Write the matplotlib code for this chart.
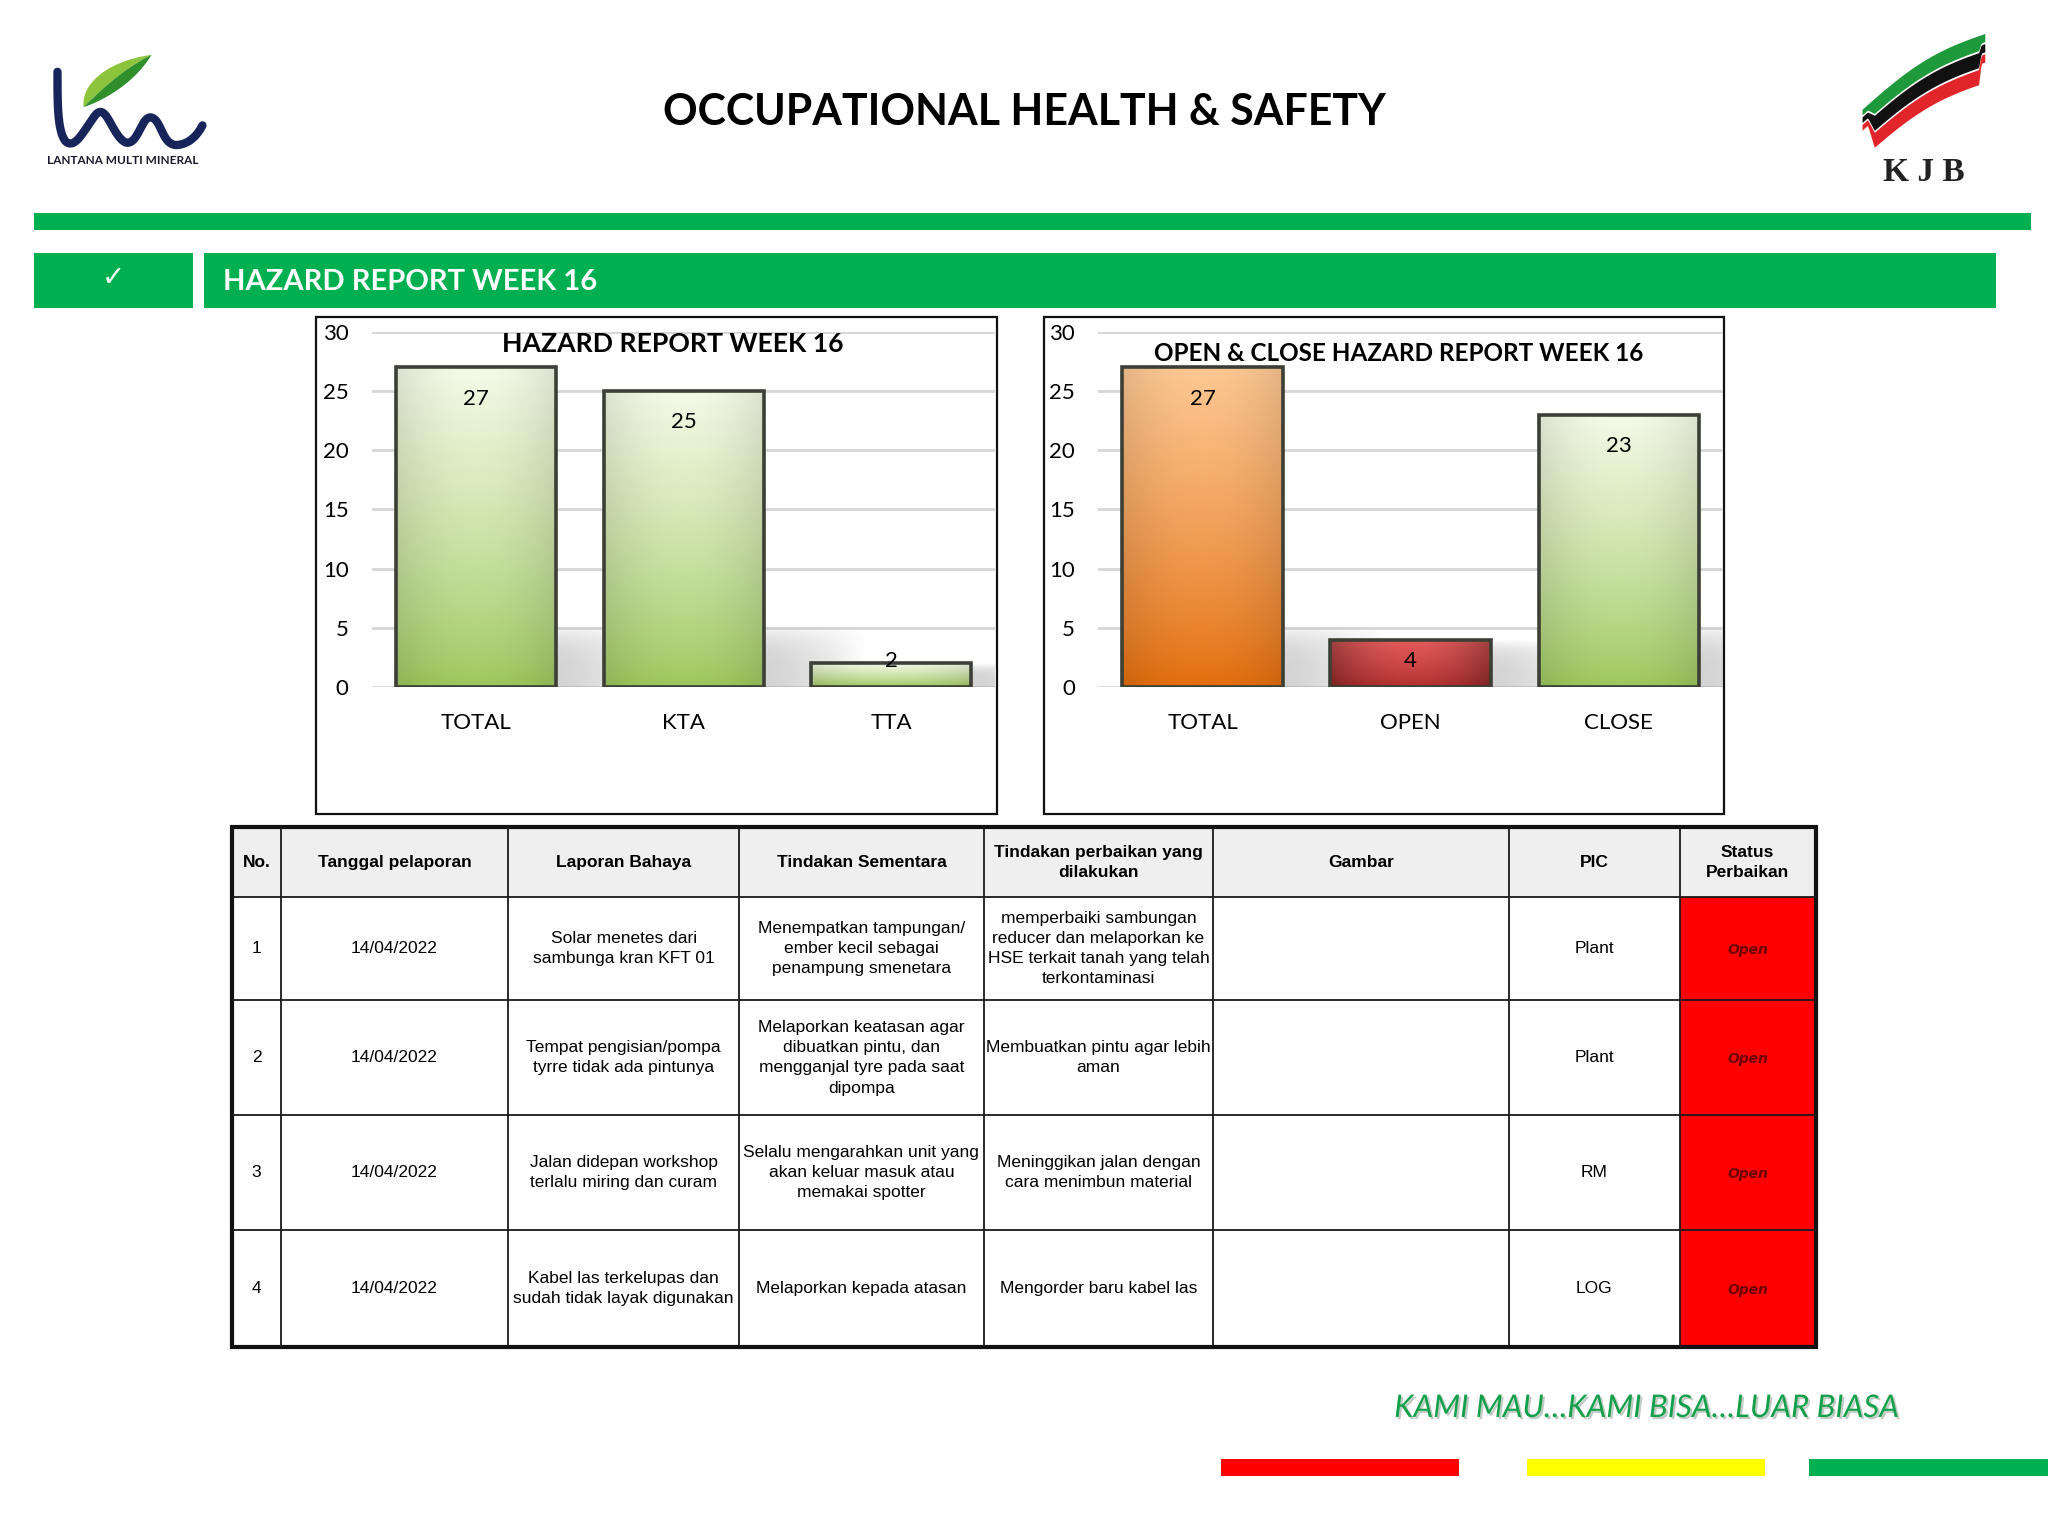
import numpy as np
import matplotlib
matplotlib.use('Agg')
import matplotlib.pyplot as plt
from matplotlib.patches import Rectangle, Polygon
from matplotlib.colors import to_rgb
import matplotlib.patheffects as pe

# ---- data ----
hz_cats = ['TOTAL', 'KTA', 'TTA']
hz_vals = [27, 25, 2]
oc_cats = ['TOTAL', 'OPEN', 'CLOSE']
oc_vals = [27, 4, 23]
y_ticks = [0, 5, 10, 15, 20, 25, 30]

tbl_header = ['No.', 'Tanggal pelaporan', 'Laporan Bahaya', 'Tindakan Sementara',
              'Tindakan perbaikan yang\ndilakukan', 'Gambar', 'PIC', 'Status\nPerbaikan']
tbl_no = ['1', '2', '3', '4']
tbl_date = ['14/04/2022', '14/04/2022', '14/04/2022', '14/04/2022']
tbl_laporan = ['Solar menetes dari\nsambunga kran KFT 01',
               'Tempat pengisian/pompa\ntyrre tidak ada pintunya',
               'Jalan didepan workshop\nterlalu miring dan curam',
               'Kabel las terkelupas dan\nsudah tidak layak digunakan']
tbl_sementara = ['Menempatkan tampungan/\nember kecil sebagai\npenampung smenetara',
                 'Melaporkan keatasan agar\ndibuatkan pintu, dan\nmengganjal tyre pada saat\ndipompa',
                 'Selalu mengarahkan unit yang\nakan keluar masuk atau\nmemakai spotter',
                 'Melaporkan kepada atasan']
tbl_perbaikan = ['memperbaiki sambungan\nreducer dan melaporkan ke\nHSE terkait tanah yang telah\nterkontaminasi',
                 'Membuatkan pintu agar lebih\naman',
                 'Meninggikan jalan dengan\ncara menimbun material',
                 'Mengorder baru kabel las']
tbl_gambar = ['', '', '', '']
tbl_pic = ['Plant', 'Plant', 'RM', 'LOG']
tbl_status = ['Open', 'Open', 'Open', 'Open']

# ---- layout helpers (reference pixel grid 1568 x 1176) ----
W, H = 1568, 1176
GREEN = '#00B050'
SANS = ['Lato', 'DejaVu Sans']
ARIAL = ['Liberation Sans', 'DejaVu Sans']

fig = plt.figure(figsize=(20.48, 15.36), dpi=100)
bg = fig.add_axes([0, 0, 1, 1])
bg.set_xlim(0, W)
bg.set_ylim(H, 0)
bg.axis('off')


def box(x0, y0, x1, y1):
    return [x0 / W, 1 - y1 / H, (x1 - x0) / W, (y1 - y0) / H]


def bez(p0, p1, p2, p3, n=40):
    t = np.linspace(0, 1, n)[:, None]
    p0, p1, p2, p3 = map(np.array, (p0, p1, p2, p3))
    return (1 - t) ** 3 * p0 + 3 * (1 - t) ** 2 * t * p1 + 3 * (1 - t) * t ** 2 * p2 + t ** 3 * p3


# ---- header ----
bg.text(784, 86, 'OCCUPATIONAL HEALTH & SAFETY', ha='center', va='center',
        fontsize=30.8, fontweight='bold', family=SANS, color='black')
bg.add_patch(Rectangle((26, 163), 1529, 13, color=GREEN, lw=0))
bg.add_patch(Rectangle((26, 194), 122, 42, color=GREEN, lw=0))
bg.add_patch(Rectangle((156, 194), 1372, 42, color=GREEN, lw=0))
bg.text(87, 213, '\u2713', ha='center', va='center', fontsize=20, color='white',
        family=['DejaVu Sans'])
bg.text(171, 216, 'HAZARD REPORT WEEK 16', ha='left', va='center', fontsize=21,
        fontweight='bold', family=SANS, color='white')

# left logo (LANTANA MULTI MINERAL)
navy = '#17255A'
seg = [bez((44, 55), (44, 80), (44, 100), (50, 108)),
       bez((50, 108), (58, 116), (66, 96), (74, 87)),
       bez((74, 87), (82, 80), (86, 104), (96, 109)),
       bez((96, 109), (106, 112), (108, 88), (116, 90)),
       bez((116, 90), (124, 92), (124, 112), (136, 111)),
       bez((136, 111), (146, 110), (152, 102), (155, 96))]
pts = np.vstack(seg)
bg.plot(pts[:, 0], pts[:, 1], color=navy, lw=6, solid_capstyle='round', solid_joinstyle='round')
up = np.vstack([bez((64, 82), (62, 62), (86, 46), (116, 42)), bez((116, 42), (96, 52), (80, 66), (64, 82))])
lo = np.vstack([bez((64, 82), (82, 76), (104, 62), (116, 42)), bez((116, 42), (96, 52), (80, 66), (64, 82))])
bg.add_patch(Polygon(up, closed=True, color='#8CC43C', lw=0))
bg.add_patch(Polygon(lo, closed=True, color='#2F8F2A', lw=0))
bg.text(94, 123, 'LANTANA MULTI MINERAL', ha='center', va='center', fontsize=8.5,
        fontweight='bold', family=SANS, color='#1A1A2E')

# right logo (KJB)
t = np.linspace(0, 1, 120)
xs = 1426 + 94 * t
base = 84 - 58 * t - 8 * np.sin(np.pi * t)
thick = 13 * np.clip(t / 0.1, 0.45, 1) * np.clip((1 - t) / 0.05, 0.6, 1)
for k, c in enumerate(['#1E9A3C', '#111111', '#E0262B']):
    top_edge = base + k * thick
    bot_edge = base + (k + 1) * thick - 1.5
    poly = np.column_stack([np.r_[xs, xs[::-1]], np.r_[top_edge, bot_edge[::-1]]])
    bg.add_patch(Polygon(poly, closed=True, color=c, lw=0))
bg.text(1473, 132, 'K J B', ha='center', va='center', fontsize=24, fontweight='bold',
        family=['Liberation Serif', 'DejaVu Serif'], color='#222222')


# ---- bar charts ----
def shade_bar(ax, rect, top, bottom, edge_dark=0.12):
    x0, y0 = rect.get_x(), rect.get_y()
    w, h = rect.get_width(), rect.get_height()
    tt = np.linspace(0, 1, 200)[:, None, None] ** 0.8
    uu = np.linspace(-1, 1, 120)[None, :, None]
    top, bottom = np.array(to_rgb(top)), np.array(to_rgb(bottom))
    img = bottom + (top - bottom) * tt
    img = img * (1 - edge_dark * uu ** 2)
    im = ax.imshow(np.clip(img, 0, 1), extent=[x0, x0 + w, y0, y0 + h], origin='lower',
                   aspect='auto', zorder=2, interpolation='bilinear')
    im.set_clip_path(rect)


def shadow(ax, rect, width=0.5, height=5.3):
    x1 = rect.get_x() + rect.get_width()
    hh = min(rect.get_height(), height)
    u = np.linspace(0, 1, 60)[None, :]
    v = np.linspace(0, 1, 60)[:, None]
    a = 0.38 * (1 - u ** 1.5) * (1 - v ** 4)
    img = np.zeros((60, 60, 4))
    img[..., :3] = 0.55
    img[..., 3] = a
    ax.imshow(img, extent=[x1, x1 + width, 0, hh], origin='lower', aspect='auto',
              zorder=1.5, interpolation='bilinear')


def bar_chart(frame, plot, cats, vals, styles, title, title_xy, title_size):
    fx0, fy0, fx1, fy1 = frame
    bg.add_patch(Rectangle((fx0, fy0), fx1 - fx0, fy1 - fy0, fill=False, ec='#111111', lw=1.6))
    ax = fig.add_axes(box(*plot))
    ax.set_facecolor('none')
    x = np.arange(len(cats))
    bars = ax.bar(x, vals, 0.77, facecolor='none', edgecolor='#3C3F36', lw=2.6, zorder=3)
    for b, (top, bot, ed) in zip(bars, styles):
        shade_bar(ax, b, top, bot, ed)
        shadow(ax, b)
    for xi, v in zip(x, vals):
        ax.text(xi, max(v - 2.65, 2.2), str(v), ha='center', va='center', fontsize=16,
                family=SANS, color='black', zorder=4)
    ax.set_xlim(-0.5, len(cats) - 0.5)
    ax.set_ylim(0, 30)
    ax.set_yticks(y_ticks)
    ax.set_xticks(x)
    ax.set_xticklabels(cats)
    ax.tick_params(length=0, labelsize=16, pad=17)
    ax.tick_params(axis='x', pad=19)
    for lab in ax.get_xticklabels() + ax.get_yticklabels():
        lab.set_family(SANS)
    ax.grid(axis='y', color='#D6D6D6', lw=2, zorder=0)
    ax.set_axisbelow(True)
    for s in ax.spines.values():
        s.set_visible(False)
    fig.text(title_xy[0] / W, 1 - title_xy[1] / H, title, ha='center', va='center',
             fontsize=title_size, fontweight='bold', family=SANS, color='black')
    return ax


green_style = ('#F4FAE8', '#9CC75A', 0.10)
orange_style = ('#FDC893', '#E36C0A', 0.10)
red_style = ('#E45C5C', '#B02E2E', 0.30)

bar_chart((242, 243, 763, 623), (285, 254, 762, 526), hz_cats, hz_vals,
          [green_style] * 3, 'HAZARD REPORT WEEK 16', (515, 263), 19.2)
bar_chart((799, 243, 1320, 623), (841, 254, 1319, 526), oc_cats, oc_vals,
          [orange_style, red_style, green_style], 'OPEN & CLOSE HAZARD REPORT WEEK 16',
          (1071, 271), 17.5)

# ---- table ----
cols = [178, 215, 389, 566, 753, 929, 1155, 1286, 1390]
rows = [633, 687, 766, 854, 942, 1031]
bg.add_patch(Rectangle((cols[0], rows[0]), cols[-1] - cols[0], rows[1] - rows[0],
                       color='#EFEFEF', lw=0))
for r in range(1, len(rows) - 1):
    bg.add_patch(Rectangle((cols[7], rows[r]), cols[8] - cols[7], rows[r + 1] - rows[r],
                           color='#FF0000', lw=0))
for c in cols[1:-1]:
    bg.plot([c, c], [rows[0], rows[-1]], color='#1A1A1A', lw=1.3)
for r in rows[1:-1]:
    bg.plot([cols[0], cols[-1]], [r, r], color='#1A1A1A', lw=1.3)
bg.add_patch(Rectangle((cols[0], rows[0]), cols[-1] - cols[0], rows[-1] - rows[0],
                       fill=False, ec='#111111', lw=3))

cx = [(a + b) / 2 for a, b in zip(cols[:-1], cols[1:])]
cx[0] = 196.5
for j, h in enumerate(tbl_header):
    bg.text(cx[j], (rows[0] + rows[1]) / 2, h, ha='center', va='center', fontsize=12.5,
            fontweight='bold', family=ARIAL, linespacing=1.42, color='black')
table_cols = [tbl_no, tbl_date, tbl_laporan, tbl_sementara, tbl_perbaikan, tbl_gambar, tbl_pic]
for i in range(len(tbl_no)):
    cy = (rows[i + 1] + rows[i + 2]) / 2
    for j, colv in enumerate(table_cols):
        bg.text(cx[j], cy, colv[i], ha='center', va='center', fontsize=12.5,
                family=ARIAL, linespacing=1.42, color='black')
    bg.text(cx[7], cy + 1, tbl_status[i], ha='center', va='center', fontsize=10,
            fontweight='bold', style='oblique', family=['DejaVu Sans'], color='#6E0000')

# ---- footer ----
bg.text(1261, 1078, 'KAMI MAU\u2026KAMI BISA\u2026LUAR BIASA', ha='center', va='center',
        fontsize=22.5, style='italic', family=SANS, color='#14A04A',
        path_effects=[pe.withSimplePatchShadow(offset=(1.5, -1.5), alpha=0.25)])
bg.add_patch(Rectangle((935, 1117), 182, 13, color='#FF0000', lw=0))
bg.add_patch(Rectangle((1169, 1117), 182, 13, color='#FFFF00', lw=0))
bg.add_patch(Rectangle((1385, 1117), 183, 13, color=GREEN, lw=0))

fig.savefig('out.png', dpi=100)
